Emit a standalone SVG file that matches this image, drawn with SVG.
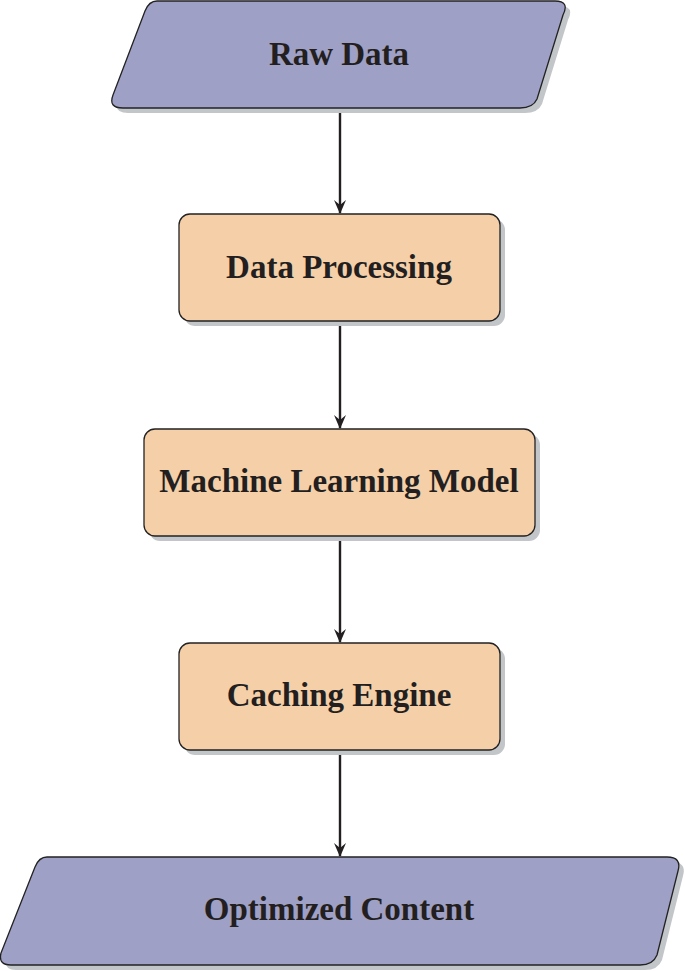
<svg xmlns="http://www.w3.org/2000/svg" width="685" height="971" viewBox="0 0 685 971">
<style>
.io{fill:#9fa0c6;stroke:#222;stroke-width:1.3;stroke-linejoin:round}
.pr{fill:#f5cfa8;stroke:#222;stroke-width:1.3}
.sh{fill:#c3c6c9}
.t{font-family:"Liberation Serif",serif;font-weight:bold;font-size:33px;fill:#231f20;text-anchor:middle}
.c{stroke:#231f20;stroke-width:2.4;fill:none;marker-end:url(#a)}
</style>
<defs>
<marker id="a" viewBox="0 0 14 14" refX="13" refY="7" markerWidth="14" markerHeight="14" markerUnits="userSpaceOnUse" orient="auto">
<path d="M0,1 L14,7 L0,13 L5,7 Z" fill="#231f20"/>
</marker>
</defs>
<g id="connectors">
<line class="c" x1="340" y1="108" x2="340" y2="213"/>
<line class="c" x1="340" y1="321" x2="340" y2="428"/>
<line class="c" x1="340" y1="536" x2="340" y2="642"/>
<line class="c" x1="340" y1="750" x2="340" y2="856"/>
</g>
<g id="raw-data">
<path class="sh" d="M162,6 L560,6 Q575,6 568,20 L542,104 Q538,113 525,113 L128,113 Q113,113 118,100 L150,16 Q154,6 162,6 Z"/>
<path class="io" d="M157,1 L555,1 Q570,1 563,15 L537,99 Q533,108 520,108 L123,108 Q108,108 113,95 L145,11 Q149,1 157,1 Z"/>
<text class="t" x="339" y="65">Raw Data</text>
</g>
<g id="data-processing">
<rect class="sh" x="184" y="219" width="321" height="107" rx="11"/>
<rect class="pr" x="179" y="214" width="321" height="107" rx="11"/>
<text class="t" x="339" y="278">Data Processing</text>
</g>
<g id="ml-model">
<rect class="sh" x="149" y="434" width="391" height="107" rx="11"/>
<rect class="pr" x="144" y="429" width="391" height="107" rx="11"/>
<text class="t" x="339" y="492">Machine Learning Model</text>
</g>
<g id="caching-engine">
<rect class="sh" x="184" y="648" width="321" height="107" rx="11"/>
<rect class="pr" x="179" y="643" width="321" height="107" rx="11"/>
<text class="t" x="339" y="706">Caching Engine</text>
</g>
<g id="optimized-content">
<path class="sh" d="M52,862 L672,862 Q687,862 683,876 L662,960 Q658,970 645,970 L16,970 Q3,970 6,958 L40,872 Q44,862 52,862 Z"/>
<path class="io" d="M47,857 L667,857 Q682,857 678,871 L657,955 Q653,965 640,965 L11,965 Q-2,965 1,953 L35,867 Q39,857 47,857 Z"/>
<text class="t" x="339" y="920">Optimized Content</text>
</g>
</svg>
